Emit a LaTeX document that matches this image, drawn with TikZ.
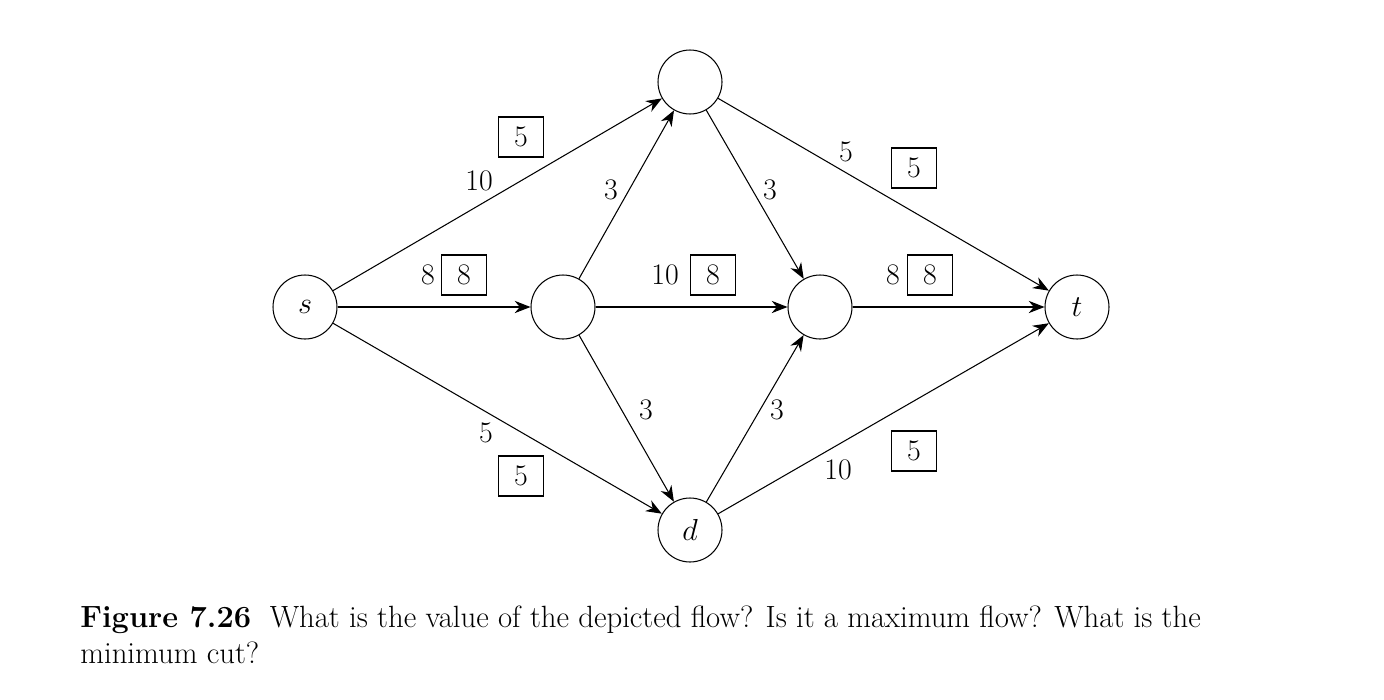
\documentclass[tikz,border=0pt]{standalone}
\usetikzlibrary{arrows.meta}
\begin{document}
\begin{tikzpicture}[x=0.02cm,y=-0.02cm,
  v/.style={circle,draw,semithick,minimum size=1.28cm,inner sep=0pt,font=\fontsize{17}{20}\selectfont},
  e/.style={-{Stealth[length=9pt,width=7pt]},semithick},
  lab/.style={font=\fontsize{17}{20}\selectfont,inner sep=0pt},
  bx/.style={draw,semithick,minimum width=0.9cm,minimum height=0.8cm,inner sep=0pt,font=\fontsize{17}{20}\selectfont}]
\useasboundingbox (0,0) rectangle (1384,700);
\node[v] (s) at (305,307) {$s$};
\node[v] (m) at (563,307) {};
\node[v] (u) at (690,82) {};
\node[v] (c) at (820,307) {};
\node[v] (t) at (1077,307) {$t$};
\node[v] (d) at (690,530) {$d$};
\draw[e] (s) -- (u);
\draw[e] (s) -- (m);
\draw[e] (s) -- (d);
\draw[e] (m) -- (u);
\draw[e] (m) -- (c);
\draw[e] (m) -- (d);
\draw[e] (u) -- (c);
\draw[e] (u) -- (t);
\draw[e] (c) -- (t);
\draw[e] (d) -- (c);
\draw[e] (d) -- (t);
\node[lab] (l1) at (479,181) {10};
\node[bx] (b1) at (521,137) {5};
\node[lab] (l2) at (428,275) {8};
\node[bx] (b2) at (464,275) {8};
\node[lab] (l3) at (486,433) {5};
\node[bx] (b3) at (521,476) {5};
\node[lab] (l4) at (611,190) {3};
\node[lab] (l5) at (665,275) {10};
\node[bx] (b5) at (713,275) {8};
\node[lab] (l6) at (646,410) {3};
\node[lab] (l7) at (770,190) {3};
\node[lab] (l8) at (846,152) {5};
\node[bx] (b8) at (914,168) {5};
\node[lab] (l9) at (893,275) {8};
\node[bx] (b9) at (930,275) {8};
\node[lab] (l10) at (777,410) {3};
\node[lab] (l11) at (838,470) {10};
\node[bx] (b11) at (914,451) {5};
\node[anchor=north west,align=left,inner sep=0pt,font=\fontsize{17.5}{20.5}\selectfont] (cap) at (80,606)
 {\textbf{Figure 7.26}\ \ What is the value of the depicted flow? Is it a maximum flow? What is the\\ minimum cut?};
\end{tikzpicture}
\end{document}
